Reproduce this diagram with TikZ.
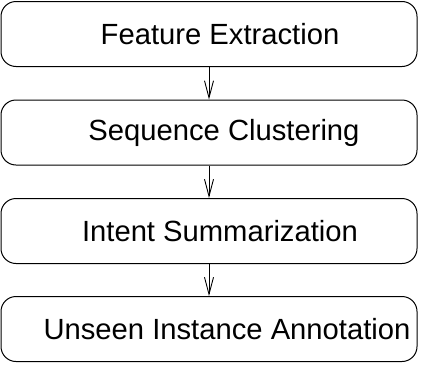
\documentclass[tikz,border=0pt]{standalone}
\usepackage{fontspec}
\setmainfont{Liberation Sans}
\usetikzlibrary{arrows.meta}
\newcommand{\stagetext}[2]{\hspace*{#1}\raisebox{-1.5pt}{#2}}
\begin{document}
\begin{tikzpicture}[x=1pt,y=-1pt,
  stagebox/.style={draw=black, line width=1pt, rounded corners=15pt,
    minimum width=416pt, minimum height=65pt, inner sep=0pt,
    font=\fontsize{29.2}{34}\selectfont},
  flow/.style={draw=black, line width=0.9pt, -{Straight Barb[length=17pt,width=9pt,line width=0.9pt]}}]
\useasboundingbox (0,0) rectangle (422,367);
\node[stagebox] (fe) at (209,34) {\stagetext{22pt}{Feature Extraction}};
\node[stagebox] (sc) at (209,132.5) {\stagetext{30pt}{Sequence Clustering}};
\node[stagebox] (is) at (209,231) {\stagetext{22pt}{Intent Summarization}};
\node[stagebox] (ua) at (209,329) {\stagetext{36pt}{Unseen Instance Annotation}};
\draw[flow] (fe) -- (sc);
\draw[flow] (sc) -- (is);
\draw[flow] (is) -- (ua);
\end{tikzpicture}
\end{document}
